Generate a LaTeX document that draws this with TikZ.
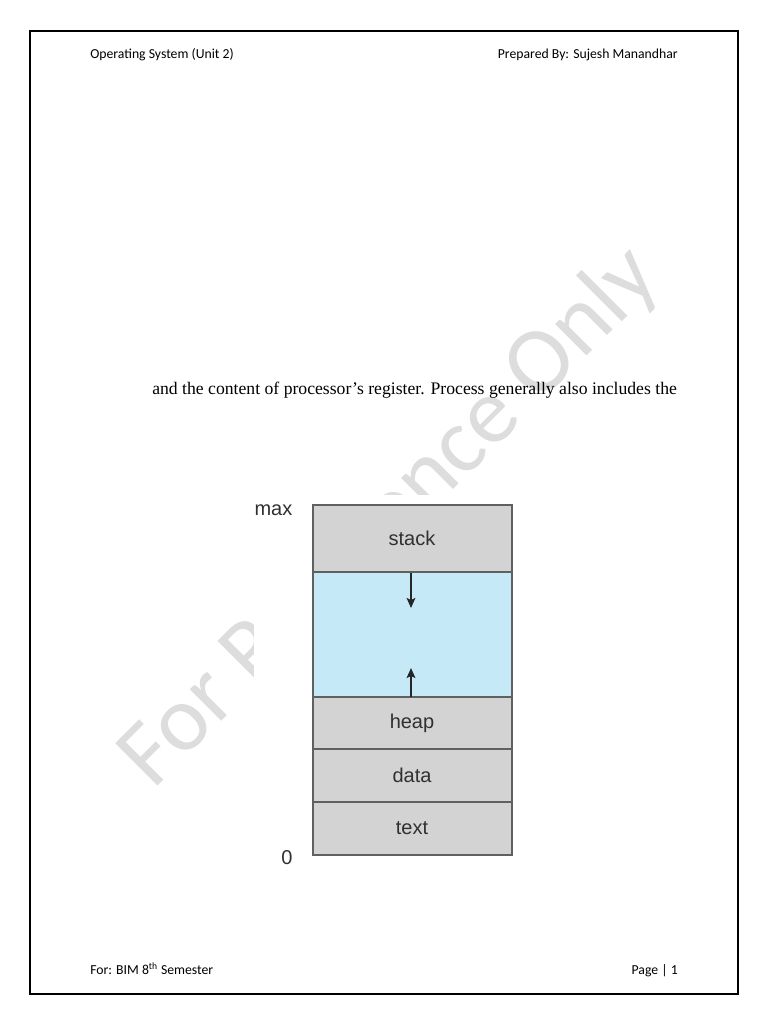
\documentclass[tikz,border=0pt]{standalone}
\usepackage{fontspec}
\setmainfont{Liberation Serif}
\newfontfamily\calib{Carlito}
\newfontfamily\arialf{Liberation Sans}
\usetikzlibrary{arrows.meta}
\definecolor{seggray}{HTML}{D3D3D3}
\definecolor{segblue}{HTML}{C6E9F8}
\definecolor{segline}{HTML}{606060}
\definecolor{wmark}{HTML}{DDDDDD}
\definecolor{lbl}{HTML}{303030}
\tikzset{
  seg/.style={draw=segline, line width=1pt},
  seglabel/.style={font=\arialf\fontsize{15}{18}\selectfont, text=lbl},
  hdr/.style={font=\calib\fontsize{10.3}{12}\selectfont, inner sep=0pt},
  growarrow/.style={-{Stealth[length=7.5pt,width=6.5pt,inset=1.5pt]}, line width=1.5pt, draw=black!85},
}
\begin{document}
\begin{tikzpicture}[x=0.75pt,y=-0.75pt]
\useasboundingbox[fill=white] (0,0) rectangle (768,1024);
% watermark (behind everything)
\node[font=\calib\fontsize{70}{76}\selectfont, text=wmark, rotate=45, inner sep=0pt] (wm) at (390,518) {For Reference Only};
% page frame
\draw[line width=0.8pt] (30,31) rectangle (738,994);
% header / footer
\node[hdr, anchor=base west] (hl) at (90,59) {Operating System (Unit 2)};
\node[hdr, anchor=base east] (hr) at (678,59) {Prepared By: Sujesh Manandhar};
\node[hdr, anchor=base west] (fl) at (90,974) {For: BIM 8\textsuperscript{th} Semester};
\node[hdr, anchor=base east] (fr) at (678,974) {Page | 1};
% body line
\node[font=\fontsize{13.25}{15}\selectfont, inner sep=0pt, anchor=base west] (body) at (152,394)
  {and the content of processor’s register. Process generally also includes the};
% white background of the figure
\fill[white] (254,495) rectangle (522,870);
% segments
\fill[seggray] (313,505) rectangle (512,572);
\fill[segblue] (313,572) rectangle (512,697);
\fill[seggray] (313,697) rectangle (512,855);
\draw[seg] (313,505) rectangle (512,855);
\draw[seg] (313,572) -- (512,572);
\draw[seg] (313,697) -- (512,697);
\draw[seg] (313,749) -- (512,749);
\draw[seg] (313,802) -- (512,802);
\node[seglabel] (stack) at (412,538) {stack};
\node[seglabel] (heap) at (412,723) {heap};
\node[seglabel] (data) at (412,775) {data};
\node[seglabel] (text) at (412,828) {text};
\node[seglabel, anchor=east] (max) at (297,510) {max};
\node[seglabel] (zero) at (287,858) {0};
\coordinate (sdown) at (411,573);
\coordinate (sdownend) at (411,608);
\coordinate (hup) at (411,697);
\coordinate (hupend) at (411,668);
\draw[growarrow] (sdown) -- (sdownend);
\draw[growarrow] (hup) -- (hupend);
\end{tikzpicture}
\end{document}
